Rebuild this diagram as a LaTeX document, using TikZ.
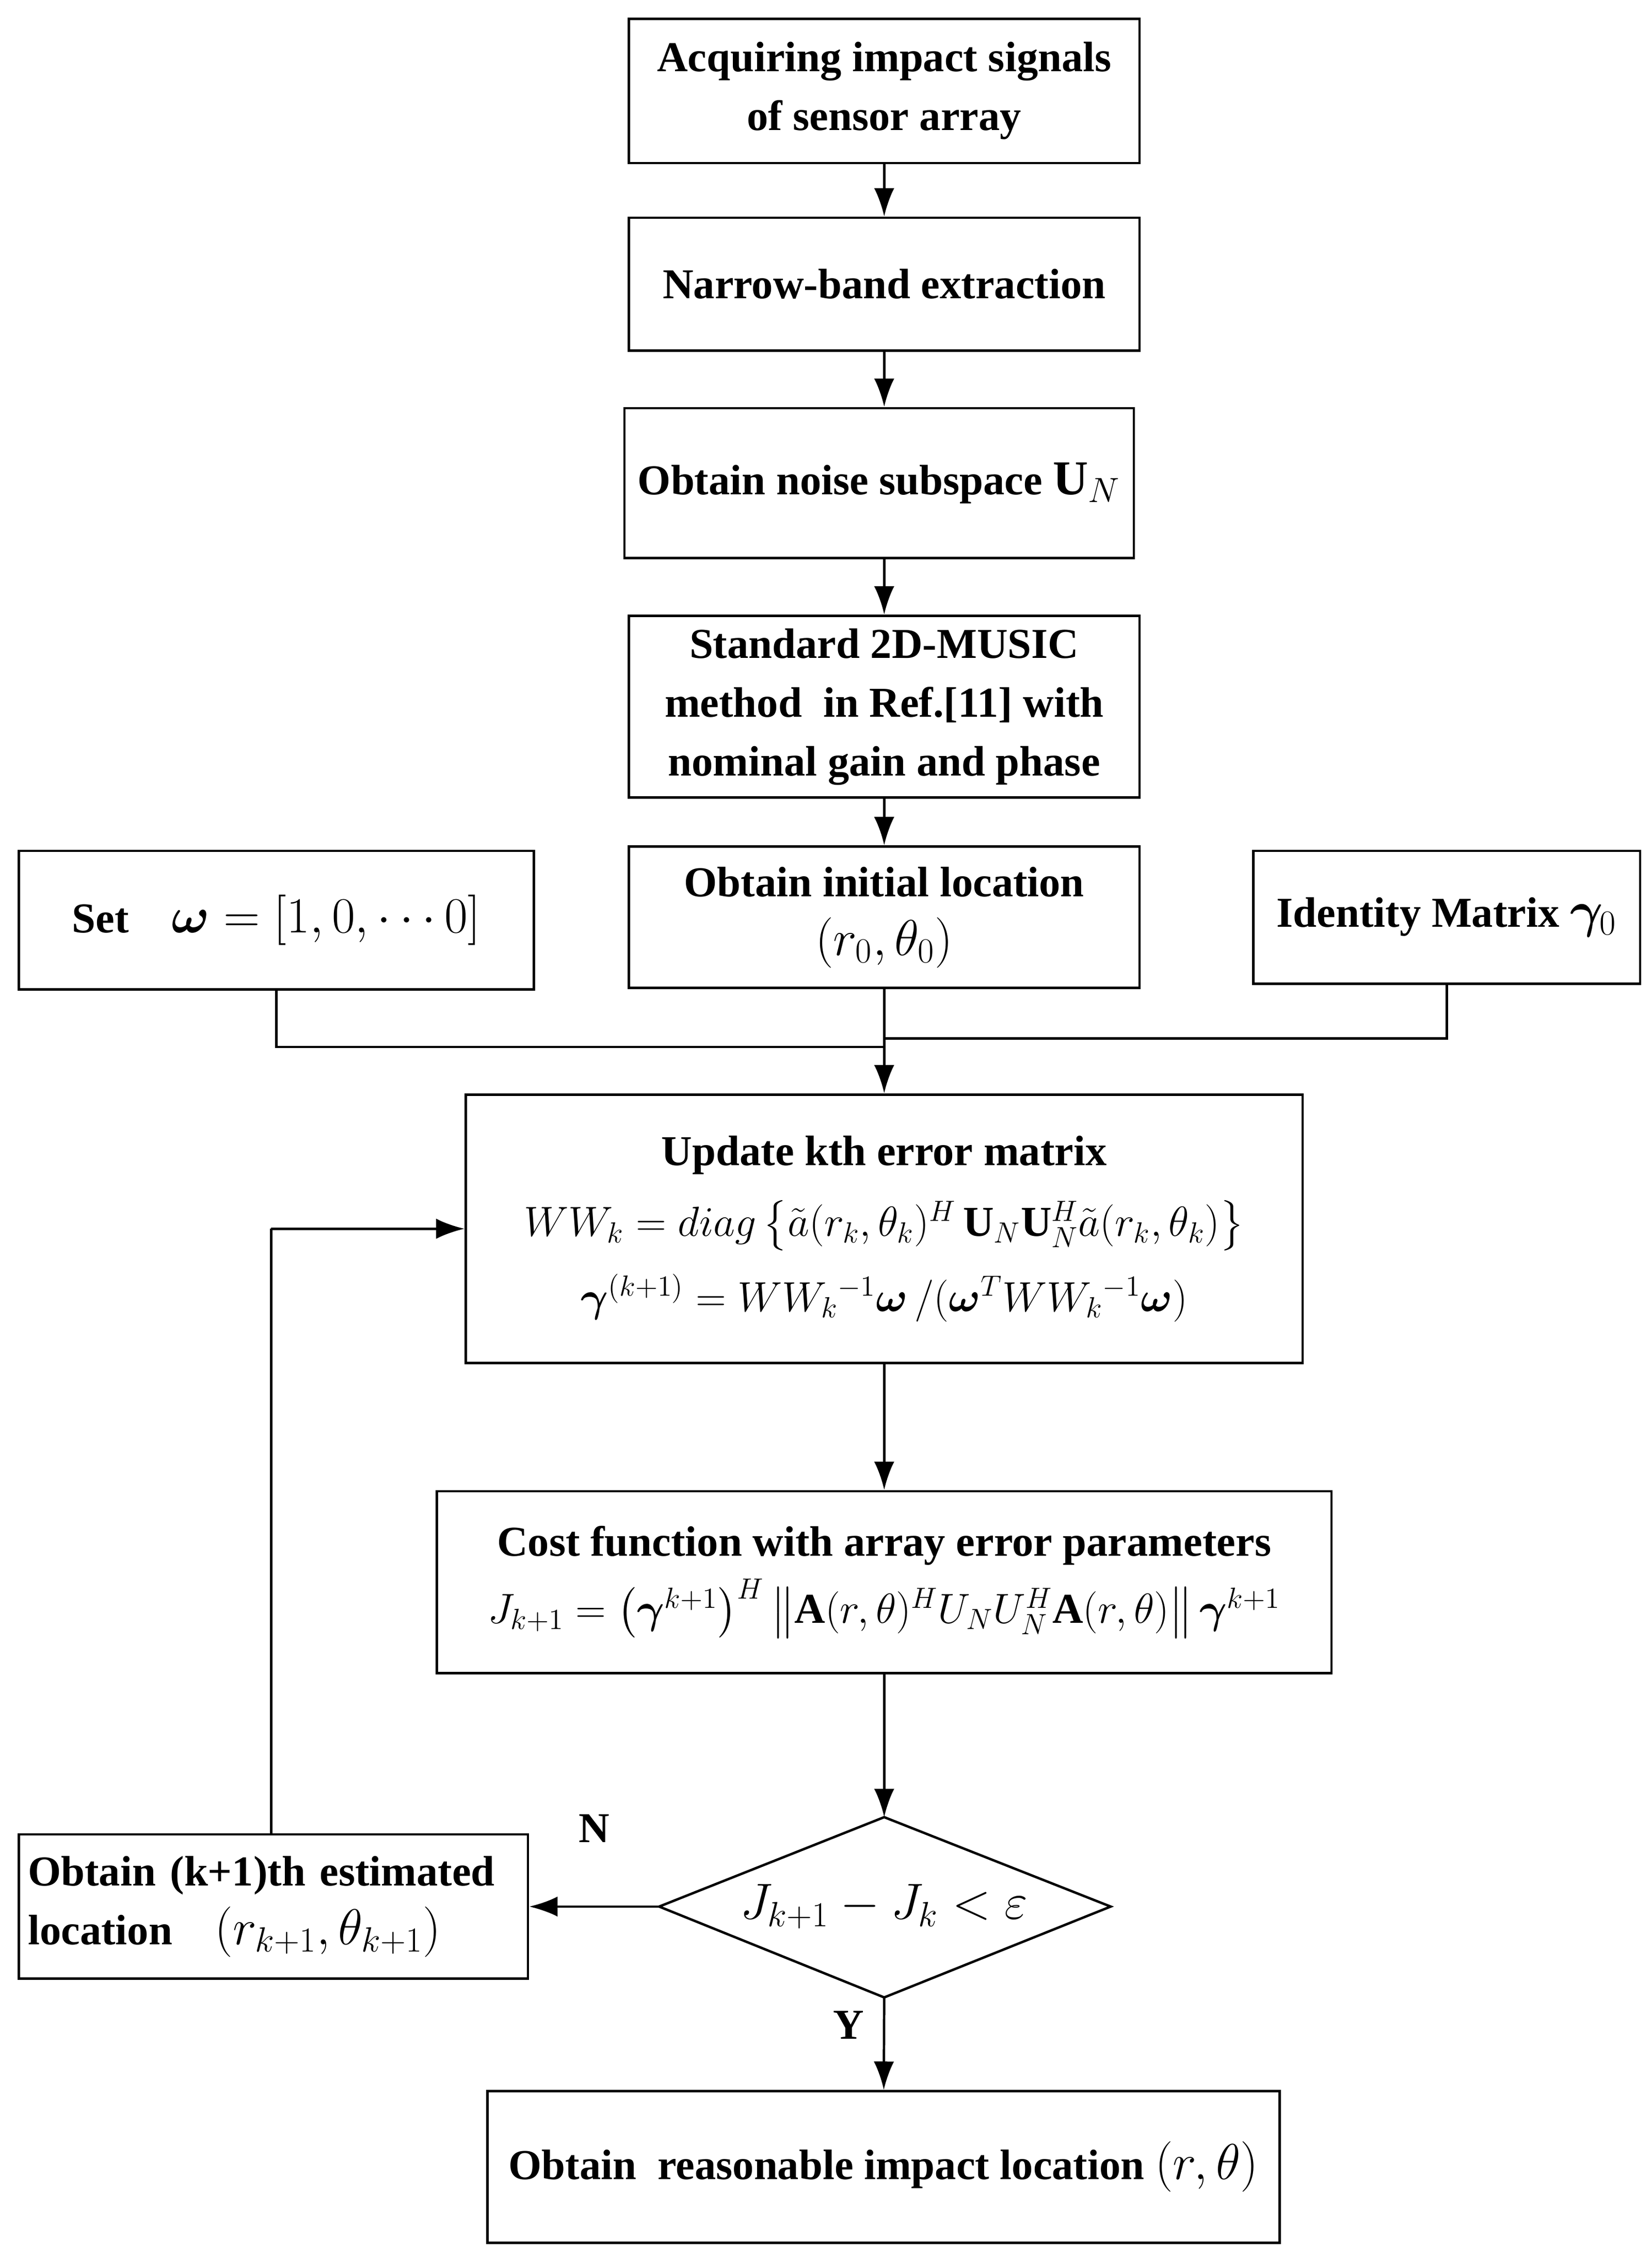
\documentclass[tikz,border=0pt]{standalone}
\usepackage{amsmath,bm}
\usepackage{fontspec}
\setmainfont{Liberation Serif}
\usetikzlibrary{arrows.meta,shapes.geometric}
\newcommand{\mf}{\fontsize{24}{34}\selectfont}
\newcommand{\mfs}{\fontsize{21}{34}\selectfont}
\begin{document}
\begin{tikzpicture}[x=0.025cm,y=-0.025cm,
  box/.style={draw,line width=1.2pt,align=center,inner sep=2pt,font=\fontsize{21}{29}\selectfont\bfseries},
  arr/.style={line width=1.2pt,-{Latex[length=14pt,width=10pt]}},
  ln/.style={line width=1.2pt}]
\useasboundingbox (0,0) rectangle (1145,1565);
\node[box,minimum width=8.85cm,minimum height=2.5cm] (b1) at (613,63) {Acquiring impact signals\\of sensor array};
\node[box,minimum width=8.85cm,minimum height=2.3cm] (b2) at (613,197) {Narrow-band extraction};
\node[box,minimum width=8.825cm,minimum height=2.6cm] (b3) at (609.5,335) {Obtain noise subspace {\mf$\mathbf{U}_N$}};
\node[box,minimum width=8.85cm,minimum height=3.15cm] (b4) at (613,490) {Standard 2D-MUSIC\\method\ \ in Ref.[11] with\\nominal gain and phase};
\node[box,minimum width=8.85cm,minimum height=2.45cm] (b5) at (613,636) {Obtain initial location\\{\mf$(r_0,\theta_0)$}};
\node[box,minimum width=8.925cm,minimum height=2.4cm] (b6) at (191.5,638) {Set\quad {\mf$\bm{\omega}=[1,0,\cdots0]$}};
\node[box,minimum width=6.7cm,minimum height=2.3cm] (b7) at (1003,636) {Identity Matrix {\mf$\bm{\gamma}_0$}};
\node[box,minimum width=14.5cm,minimum height=4.65cm] (b8) at (613,852) {Update kth error matrix\\[6pt]
{\mfs$WW_k=diag\left\{\tilde a(r_k,\theta_k)^H\,\mathbf{U}_N\mathbf{U}_N^H\tilde a(r_k,\theta_k)\right\}$}\\[8pt]
{\mfs$\bm{\gamma}^{(k+1)}=WW_k{}^{-1}\bm{\omega}\,/(\bm{\omega}^T WW_k{}^{-1}\bm{\omega})$}};
\node[box,minimum width=15.5cm,minimum height=3.15cm] (b9) at (613,1097) {Cost function with array error parameters\\[4pt]
{\mfs$J_{k+1}=\left(\bm{\gamma}^{k+1}\right)^H\left\|\mathbf{A}(r,\theta)^H U_N U_N^H\mathbf{A}(r,\theta)\right\|\bm{\gamma}^{k+1}$}};
\coordinate (dl) at (457,1322);
\coordinate (dr) at (770,1322);
\coordinate (dt) at (613,1260);
\coordinate (db) at (613,1385);
\draw[ln] (dl) -- (dt) -- (dr) -- (db) -- cycle;
\node[font=\fontsize{26}{30}\selectfont] (b10) at (613,1322) {$J_{k+1}-J_k<\varepsilon$};
\node[box,align=left,minimum width=8.825cm,minimum height=2.5cm,text width=8.5cm] (b11) at (189.5,1322) {Obtain (k+1)th estimated\\location\quad{\mf$(r_{k+1},\theta_{k+1})$}};
\node[box,minimum width=13.725cm,minimum height=2.625cm] (b12) at (612.5,1502.5) {Obtain\ \ reasonable impact location {\mf$(r,\theta)$}};
\coordinate (m1) at (613,726);
\coordinate (m2) at (613,720);
\coordinate (lp) at (188,852);
\draw[arr] (b1) -- (b2);
\draw[arr] (b2) -- (b3.north -| b2);
\draw[arr] (b3.south -| b2) -- (b4);
\draw[arr] (b4) -- (b5);
\draw[arr] (b5) -- (b8);
\draw[ln] (b6.south) |- (m1);
\draw[ln] (b7.south) |- (m2);
\draw[arr] (b8) -- (b9);
\draw[arr] (b9) -- (dt);
\draw[arr] (db) -- node[pos=0.3,left=6pt,font=\fontsize{21}{24}\selectfont\bfseries]{Y} (b12);
\draw[arr] (dl) -- (b11);
\node[font=\fontsize{21}{24}\selectfont\bfseries] (nl) at (412,1268) {N};
\draw[ln] (b11.north -| lp) -- (lp);
\draw[arr] (lp) -- (b8.west |- lp);
\end{tikzpicture}
\end{document}
